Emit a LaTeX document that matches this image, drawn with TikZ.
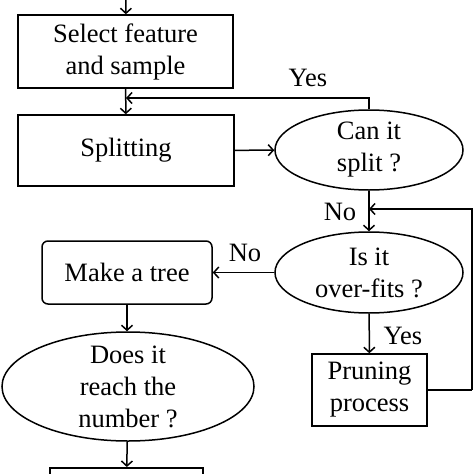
\documentclass[tikz,border=0pt]{standalone}
\usepackage{fontspec}
\setmainfont{Liberation Serif}
\usetikzlibrary{shapes.geometric,arrows.meta}
\begin{document}
\begin{tikzpicture}[x=1pt,y=-1pt,
  every node/.style={font=\fontsize{26.5}{32}\selectfont, inner sep=0pt},
  box/.style={draw, line width=1.5pt, rectangle, align=center},
  rbox/.style={box, rounded corners=6pt},
  oval/.style={draw, line width=1.5pt, ellipse},
  arr/.style={line width=1.5pt, -{Straight Barb[length=5pt,width=11pt]}},
  ln/.style={line width=1.5pt}]
\useasboundingbox (0,0) rectangle (474,474);
\clip (0,0) rectangle (474,474);
\coordinate (start) at (126,-2);
\node[box, minimum width=215, minimum height=73] (sel) at (125.5,51.5) {Select feature\\and sample};
\node[box, minimum width=216, minimum height=71] (spl) at (126,150.5) {Splitting};
\node[oval, minimum width=188, minimum height=80, label={[align=center]center:Can it\\split ?}] (can) at (369,150) {};
\node[oval, minimum width=188, minimum height=81, label={[align=center]center:Is it\\over-fits ?}] (isit) at (369,272.5) {};
\node[rbox, minimum width=170, minimum height=63] (make) at (127,272.5) {Make a tree};
\node[box, minimum width=115, minimum height=72] (prun) at (369.5,390) {Pruning\\process};
\node[oval, minimum width=252, minimum height=109, label={[align=center]center:Does it\\reach the\\number ?}] (does) at (128,386.5) {};
\node[box, minimum width=153, minimum height=40, anchor=north] (fin) at (126.5,467) {};
\coordinate (j1) at (126,98);
\coordinate (j2) at (369,209);
\coordinate (c1) at (472,390);
\draw[arr] (start) -- (sel);
\draw[arr] (sel) -- (spl);
\draw[arr] (can.north) |- (j1);
\draw[arr] (spl) -- (can);
\draw[arr] (can) -- (isit);
\draw[ln] (prun.east) -- (c1);
\draw[arr] (c1) |- (j2);
\draw[arr] (isit) -- (make);
\draw[arr] (isit) -- (prun);
\draw[arr] (make) -- (make |- does.north);
\draw[arr] (does) -- (fin);
\node (yes1) at (308,78) {Yes};
\node (no1) at (340,212) {No};
\node (no2) at (245,253) {No};
\node (yes2) at (403,336) {Yes};
\end{tikzpicture}
\end{document}
